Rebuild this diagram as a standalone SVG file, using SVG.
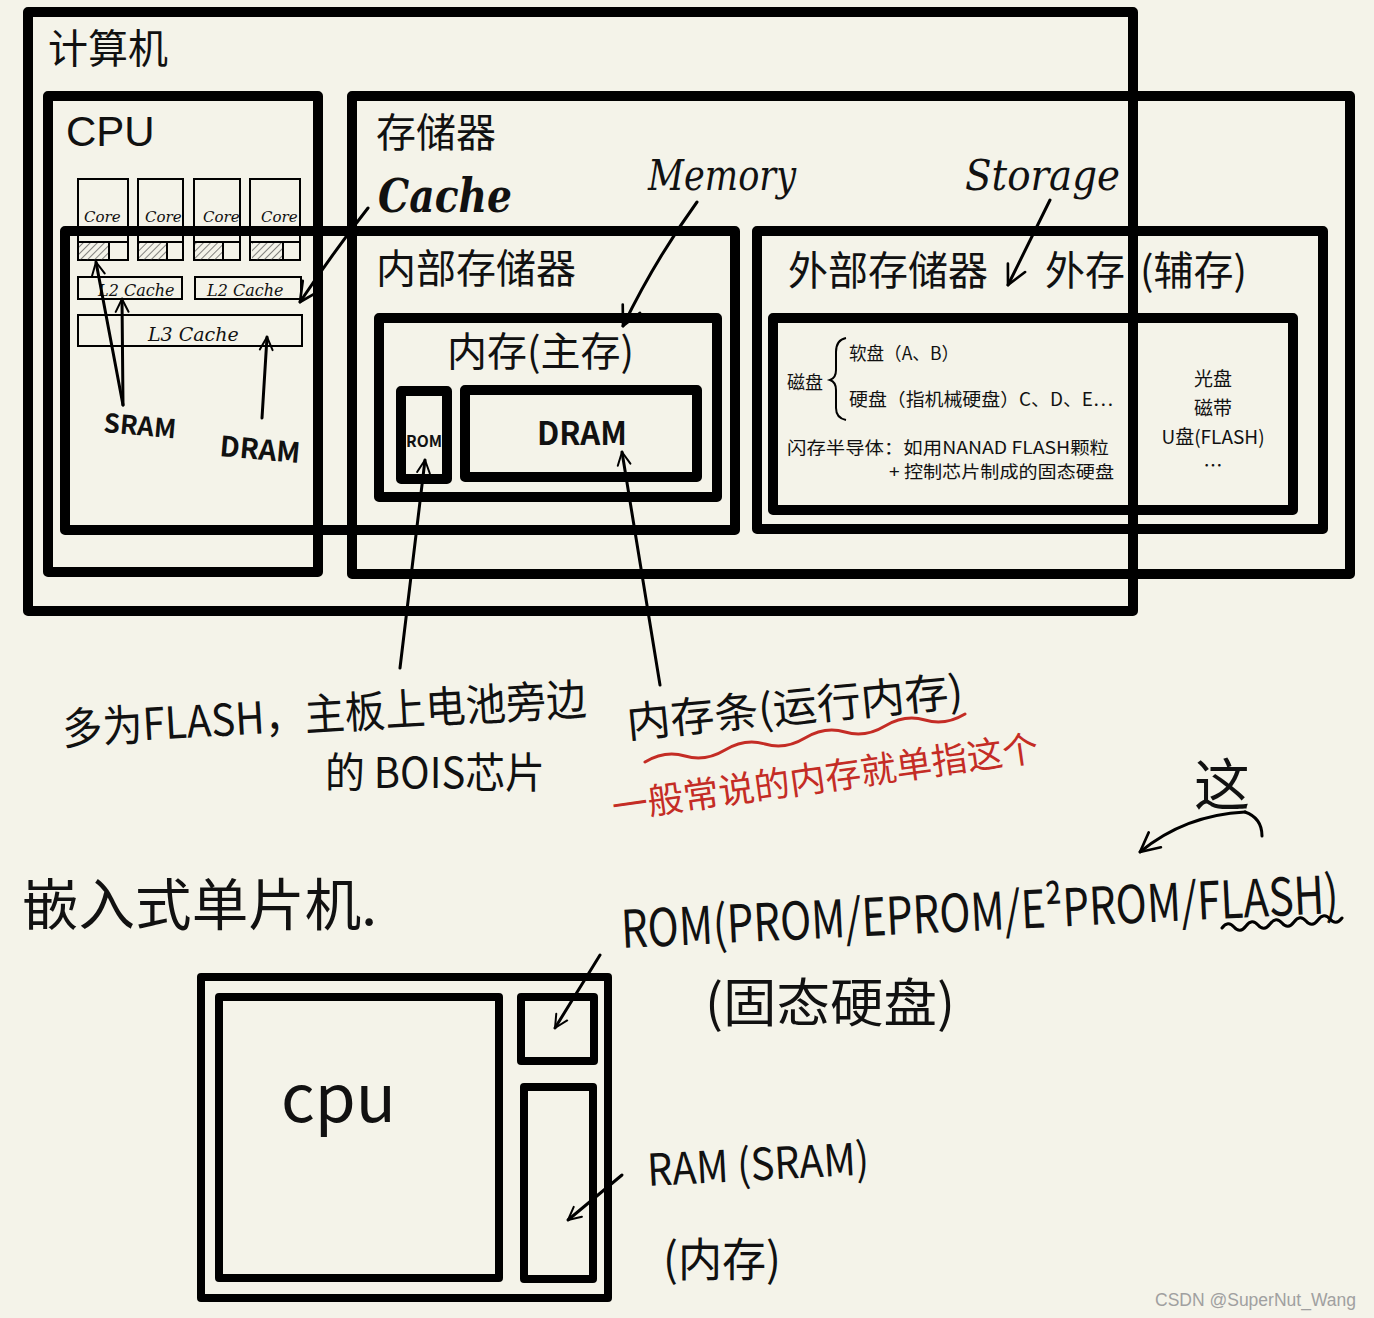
<svg xmlns="http://www.w3.org/2000/svg" width="1374" height="1318" viewBox="0 0 1374 1318">
<style>
.box{fill:none;stroke:#000;stroke-width:10;stroke-linejoin:round}
.box8{fill:none;stroke:#000;stroke-width:8;stroke-linejoin:round}
.thin{fill:none;stroke:#000;stroke-width:2}
.cn{font-family:"Noto Sans CJK SC","Noto Sans",sans-serif;fill:#111}
.sans{font-family:"Liberation Sans","Noto Sans CJK SC",sans-serif;fill:#111}
.hand{font-family:"Noto Sans CJK SC","Noto Sans",sans-serif;fill:#111}
.script{font-family:"DejaVu Serif","Liberation Serif",serif;font-style:italic;fill:#111}
.red{fill:#c42c25}
.conn{fill:none;stroke:#000;stroke-width:3;stroke-linecap:round}
</style>
<defs>
<marker id="arr" viewBox="0 0 20 20" refX="18" refY="10" markerWidth="24" markerHeight="24" markerUnits="userSpaceOnUse" orient="auto">
<path d="M2,2 L18,10 L2,18" fill="none" stroke="#000" stroke-width="2.2" stroke-linecap="round" stroke-linejoin="round"/>
</marker>
<marker id="arrS" viewBox="0 0 20 20" refX="18" refY="10" markerWidth="16" markerHeight="16" markerUnits="userSpaceOnUse" orient="auto">
<path d="M2,2 L18,10 L2,18" fill="none" stroke="#000" stroke-width="2.5" stroke-linecap="round" stroke-linejoin="round"/>
</marker>
<pattern id="hatch" width="5" height="5" patternUnits="userSpaceOnUse" patternTransform="rotate(45)">
<line x1="0" y1="0" x2="0" y2="5" stroke="#333" stroke-width="1.2"/>
</pattern>
</defs>
<rect x="0" y="0" width="1374" height="1318" fill="#f4f3e9"/>

<g id="computer">
<rect class="box" x="28" y="12" width="1105" height="599"/>
<text class="cn" x="48" y="63" font-size="40">计算机</text>
</g>

<g id="cpu">
<rect class="box" x="48" y="96" width="270" height="476"/>
<text class="sans" x="66" y="146" font-size="42">CPU</text>
<g id="cores">
<rect class="thin" x="78" y="179" width="50" height="81"/>
<rect x="79" y="242" width="30" height="18" fill="url(#hatch)"/>
<line class="thin" x1="78" y1="242" x2="128" y2="242"/>
<line class="thin" x1="109" y1="242" x2="109" y2="260"/>
<text class="script" x="84" y="222" font-size="15">Core</text>
<rect class="thin" x="138" y="179" width="45" height="81"/>
<rect x="139" y="242" width="28" height="18" fill="url(#hatch)"/>
<line class="thin" x1="138" y1="242" x2="183" y2="242"/>
<line class="thin" x1="167" y1="242" x2="167" y2="260"/>
<text class="script" x="145" y="222" font-size="15">Core</text>
<rect class="thin" x="194" y="179" width="46" height="81"/>
<rect x="195" y="242" width="28" height="18" fill="url(#hatch)"/>
<line class="thin" x1="194" y1="242" x2="240" y2="242"/>
<line class="thin" x1="223" y1="242" x2="223" y2="260"/>
<text class="script" x="203" y="222" font-size="15">Core</text>
<rect class="thin" x="250" y="179" width="50" height="81"/>
<rect x="252" y="242" width="31" height="18" fill="url(#hatch)"/>
<line class="thin" x1="250" y1="242" x2="300" y2="242"/>
<line class="thin" x1="283" y1="242" x2="283" y2="260"/>
<text class="script" x="261" y="222" font-size="15">Core</text>
</g>
<rect class="thin" x="78" y="277" width="104" height="22"/>
<text class="script" x="98" y="296" font-size="16">L2 Cache</text>
<rect class="thin" x="195" y="277" width="106" height="22"/>
<text class="script" x="207" y="296" font-size="16">L2 Cache</text>
<rect class="thin" x="78" y="315" width="224" height="31"/>
<text class="script" x="148" y="341" font-size="19">L3 Cache</text>
<text class="hand" x="103" y="432" font-size="26" font-weight="bold" transform="rotate(5 103 432)">SRAM</text>
<text class="hand" x="219" y="456" font-size="28" font-weight="bold" transform="rotate(5 219 456)">DRAM</text>
</g>

<g id="storage">
<rect class="box" x="352" y="96" width="998" height="478"/>
<text class="cn" x="376" y="147" font-size="40">存储器</text>
<text class="script" x="378" y="212" font-size="46" font-weight="bold" textLength="134" lengthAdjust="spacingAndGlyphs">Cache</text>
<text class="script" x="648" y="190" font-size="42" textLength="148" lengthAdjust="spacingAndGlyphs">Memory</text>
<text class="script" x="965" y="190" font-size="42" textLength="155" lengthAdjust="spacingAndGlyphs">Storage</text>
</g>

<g id="internal-storage">
<rect class="box" x="65" y="231" width="670" height="299"/>
<text class="cn" x="376" y="283" font-size="40">内部存储器</text>
</g>

<g id="main-memory">
<rect class="box" x="379" y="318" width="338" height="179"/>
<text class="cn" x="447" y="366" font-size="40">内存(主存)</text>
</g>

<g id="rom">
<rect class="box" x="401" y="391" width="46" height="88"/>
<text class="hand" x="406" y="447" font-size="16" font-weight="bold" textLength="36" lengthAdjust="spacingAndGlyphs">ROM</text>
</g>

<g id="dram">
<rect class="box" x="465" y="390" width="232" height="87"/>
<text class="hand" x="537" y="445" font-size="32" font-weight="bold" textLength="90" lengthAdjust="spacingAndGlyphs">DRAM</text>
</g>

<g id="external-storage">
<rect class="box" x="757" y="231" width="566" height="298"/>
<text class="cn" x="788" y="285" font-size="40">外部存储器</text>
<text class="cn" x="1045" y="285" font-size="40">外存</text>
<text class="cn" x="1140" y="285" font-size="40">(辅存)</text>
</g>

<g id="disk-types">
<rect class="box" x="773" y="318" width="520" height="192"/>
<text class="cn" x="787" y="389" font-size="18">磁盘</text>
<path class="thin" d="M846,338 Q836,340 836,352 L836,370 Q836,378 830,380 Q836,382 836,390 L836,408 Q836,418 846,420" stroke-width="1.5"/>
<text class="cn" x="849" y="360" font-size="18" textLength="110" lengthAdjust="spacingAndGlyphs">软盘（A、B）</text>
<text class="cn" x="849" y="406" font-size="18" textLength="264" lengthAdjust="spacingAndGlyphs">硬盘（指机械硬盘）C、D、E…</text>
<text class="cn" x="787" y="454" font-size="17.5" textLength="322" lengthAdjust="spacingAndGlyphs">闪存半导体：如用NANAD FLASH颗粒</text>
<text class="cn" x="889" y="478" font-size="17.5" textLength="225" lengthAdjust="spacingAndGlyphs">+ 控制芯片制成的固态硬盘</text>
<text class="cn" x="1213" y="386" font-size="19" text-anchor="middle">光盘</text>
<text class="cn" x="1213" y="415" font-size="19" text-anchor="middle">磁带</text>
<text class="cn" x="1213" y="444" font-size="19" text-anchor="middle">U盘(FLASH)</text>
<text class="cn" x="1213" y="473" font-size="19" text-anchor="middle">…</text>
</g>

<g id="notes">
<text class="hand" x="63" y="745" font-size="44" textLength="525" lengthAdjust="spacingAndGlyphs" transform="rotate(-3.3 63 745)">多为FLASH，主板上电池旁边</text>
<text class="hand" x="325" y="788" font-size="42" textLength="220" lengthAdjust="spacingAndGlyphs">的 BOIS芯片</text>
<text class="hand" x="628" y="738" font-size="42" textLength="338" lengthAdjust="spacingAndGlyphs" transform="rotate(-5.5 628 738)">内存条(运行内存)</text>
<path d="M645,762 q20,-12 40,-6 t40,-6 t40,-6 t40,-6 t40,-6 t40,-6 t40,-6 t40,-6" fill="none" stroke="#c42c25" stroke-width="3" stroke-linecap="round"/>
<text class="hand red" x="614" y="820" font-size="36" textLength="430" lengthAdjust="spacingAndGlyphs" transform="rotate(-8 614 820)">一般常说的内存就单指这个</text>
<text class="hand" x="1194" y="805" font-size="56">这</text>
<text class="hand" x="622" y="948" font-size="52" textLength="718" lengthAdjust="spacingAndGlyphs" transform="rotate(-2.8 622 948)">ROM(PROM/EPROM/E²PROM/FLASH)</text>
<path d="M1222,928 q6,-8 12,-1 t12,-1 t12,-1 t12,-1 t12,-1 t12,-1 t12,-1 t12,-1 t12,-1 t12,-1" fill="none" stroke="#000" stroke-width="3" stroke-linecap="round"/>
<text class="hand" x="705" y="1022" font-size="52" textLength="250" lengthAdjust="spacingAndGlyphs">(固态硬盘)</text>
<text class="hand" x="22" y="925" font-size="56" textLength="355" lengthAdjust="spacingAndGlyphs">嵌入式单片机.</text>
<text class="hand" x="648" y="1186" font-size="44" textLength="222" lengthAdjust="spacingAndGlyphs" transform="rotate(-3 648 1186)">RAM (SRAM)</text>
<text class="hand" x="663" y="1276" font-size="46" textLength="118" lengthAdjust="spacingAndGlyphs">(内存)</text>
</g>

<g id="mcu">
<rect class="box8" x="201" y="977" width="407" height="321"/>
</g>
<g id="mcu-cpu">
<rect class="box8" x="219" y="997" width="280" height="281"/>
<text class="hand" x="281" y="1122" font-size="66" textLength="115" lengthAdjust="spacingAndGlyphs">cpu</text>
</g>
<g id="mcu-rom">
<rect class="box8" x="521" y="997" width="73" height="64"/>
</g>
<g id="mcu-ram">
<rect class="box8" x="524" y="1087" width="69" height="192"/>
</g>

<g id="connectors">
<path class="conn" d="M368,208 Q335,250 300,302" marker-end="url(#arr)"/>
<path class="conn" d="M697,202 Q655,260 623,326" marker-end="url(#arr)"/>
<path class="conn" d="M1050,200 L1008,285" marker-end="url(#arr)"/>
<path class="conn" d="M123,405 L96,262" marker-end="url(#arrS)"/>
<path class="conn" d="M123,405 L122,299" marker-end="url(#arrS)"/>
<path class="conn" d="M262,418 L267,337" marker-end="url(#arrS)"/>
<path class="conn" d="M400,668 L425,460" marker-end="url(#arrS)"/>
<path class="conn" d="M660,685 Q640,560 622,452" marker-end="url(#arrS)"/>
<path class="conn" d="M1245,812 Q1185,815 1140,852" marker-end="url(#arr)"/>
<path class="conn" d="M1245,812 Q1262,818 1262,836"/>
<path class="conn" d="M600,955 L555,1028" marker-end="url(#arrS)"/>
<path class="conn" d="M622,1175 L568,1220" marker-end="url(#arrS)"/>
</g>

<text x="1155" y="1306" font-family="Liberation Sans, sans-serif" font-size="17.5" fill="#a0a0a0">CSDN @SuperNut_Wang</text>
</svg>
